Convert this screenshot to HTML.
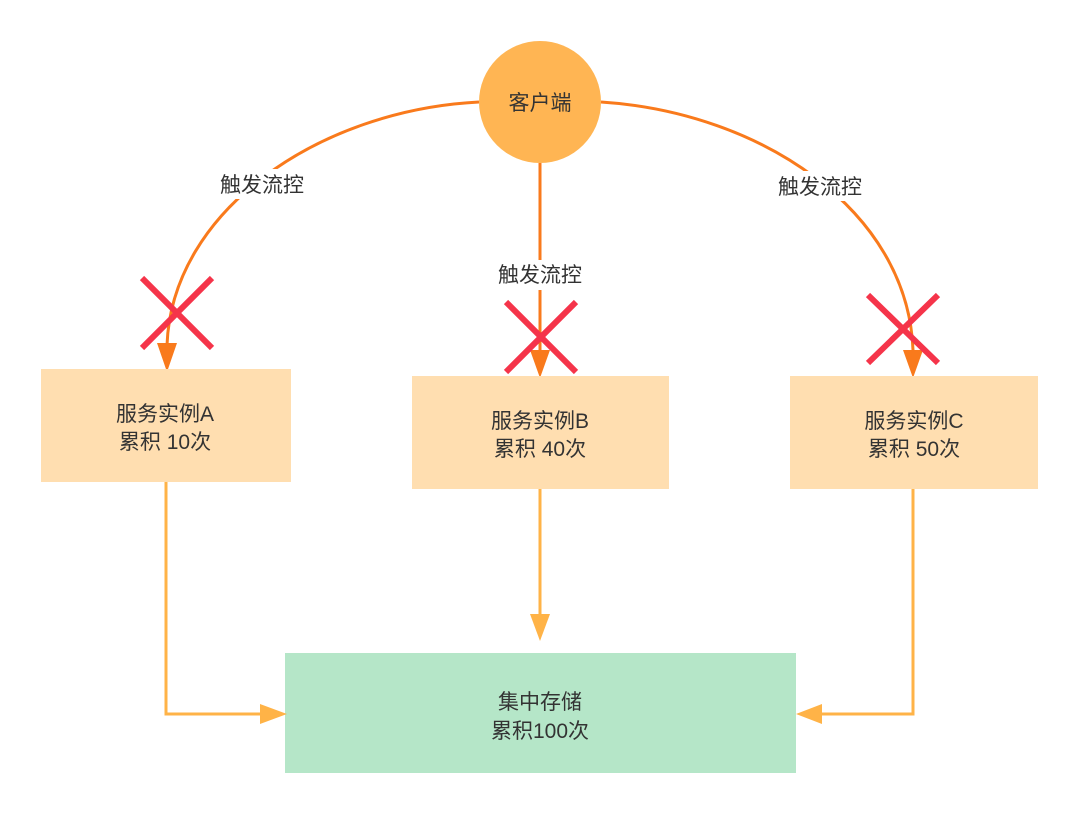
<!DOCTYPE html>
<html><head><meta charset="utf-8"><style>
body{margin:0;background:#fff}
text{font-family:"Liberation Sans","Noto Sans CJK SC",sans-serif;font-size:21px;fill:#333}
</style></head><body>
<svg width="1080" height="815" viewBox="0 0 1080 815" xmlns="http://www.w3.org/2000/svg">
<rect width="1080" height="815" fill="#fff"/>
<g fill="none" stroke="#F97A1C" stroke-width="3">
<path d="M479,102 C320,110 172,210 167,345"/>
<path d="M601,102 C760,112 908,210 913,350"/>
<line x1="540" y1="163" x2="540" y2="352"/>
</g>
<g fill="#F97A1C">
<polygon points="157,343 177,343 167,372"/>
<polygon points="530,350 550,350 540,378"/>
<polygon points="903,350 923,350 913,378"/>
</g>
<rect x="212" y="169" width="100" height="30" fill="#fff"/>
<text x="262" y="192" text-anchor="middle">触发流控</text>
<rect x="770" y="171" width="100" height="30" fill="#fff"/>
<text x="820" y="194" text-anchor="middle">触发流控</text>
<rect x="490" y="260" width="100" height="30" fill="#fff"/>
<text x="540" y="282" text-anchor="middle">触发流控</text>
<circle cx="540" cy="102" r="61" fill="#FFB553"/>
<text x="540" y="110" text-anchor="middle">客户端</text>
<rect x="41" y="369" width="250" height="113" fill="#FFDEB0"/>
<rect x="412" y="376" width="257" height="113" fill="#FFDEB0"/>
<rect x="790" y="376" width="248" height="113" fill="#FFDEB0"/>
<rect x="285" y="653" width="511" height="120" fill="#B5E6C8"/>
<text x="165" y="421" text-anchor="middle">服务实例A</text>
<text x="165" y="449" text-anchor="middle">累积 10次</text>
<text x="540" y="428" text-anchor="middle">服务实例B</text>
<text x="540" y="456" text-anchor="middle">累积 40次</text>
<text x="914" y="428" text-anchor="middle">服务实例C</text>
<text x="914" y="456" text-anchor="middle">累积 50次</text>
<text x="540" y="709" text-anchor="middle">集中存储</text>
<text x="540" y="738" text-anchor="middle">累积100次</text>
<g fill="none" stroke="#FFB347" stroke-width="3">
<polyline points="166,482 166,714 262,714"/>
<line x1="540" y1="489" x2="540" y2="618"/>
<polyline points="913,489 913,714 820,714"/>
</g>
<g fill="#FFB347">
<polygon points="260,704 260,724 287,714"/>
<polygon points="530,614 550,614 540,641"/>
<polygon points="822,704 822,724 796,714"/>
</g>
<g stroke="#F5344A" stroke-width="6">
<line x1="142" y1="278" x2="212" y2="348"/><line x1="212" y1="278" x2="142" y2="348"/>
<line x1="506" y1="302" x2="576" y2="372"/><line x1="576" y1="302" x2="506" y2="372"/>
<line x1="868" y1="295" x2="938" y2="363"/><line x1="938" y1="295" x2="868" y2="363"/>
</g>
</svg>
</body></html>
